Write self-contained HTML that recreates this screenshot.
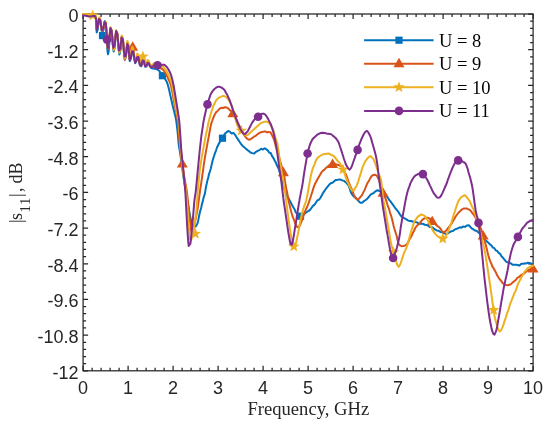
<!DOCTYPE html>
<html><head><meta charset="utf-8"><style>html,body{margin:0;padding:0;background:#fff;overflow:hidden;}svg{display:block;}</style></head>
<body>
<svg width="550" height="426" viewBox="0 0 550 426">
<rect width="550" height="426" fill="#fff"/>
<defs><clipPath id="c"><rect x="82.10" y="12.50" width="452.00" height="359.30"/></clipPath></defs>
<g stroke="#262626" stroke-width="1.25" fill="none">
<rect x="83.10" y="14.00" width="450.00" height="356.80"/>
<path d="M83.10 370.80V365.80M83.10 14.00V19.00M92.10 370.80V367.80M92.10 14.00V17.00M101.10 370.80V367.80M101.10 14.00V17.00M110.10 370.80V367.80M110.10 14.00V17.00M119.10 370.80V367.80M119.10 14.00V17.00M128.10 370.80V365.80M128.10 14.00V19.00M137.10 370.80V367.80M137.10 14.00V17.00M146.10 370.80V367.80M146.10 14.00V17.00M155.10 370.80V367.80M155.10 14.00V17.00M164.10 370.80V367.80M164.10 14.00V17.00M173.10 370.80V365.80M173.10 14.00V19.00M182.10 370.80V367.80M182.10 14.00V17.00M191.10 370.80V367.80M191.10 14.00V17.00M200.10 370.80V367.80M200.10 14.00V17.00M209.10 370.80V367.80M209.10 14.00V17.00M218.10 370.80V365.80M218.10 14.00V19.00M227.10 370.80V367.80M227.10 14.00V17.00M236.10 370.80V367.80M236.10 14.00V17.00M245.10 370.80V367.80M245.10 14.00V17.00M254.10 370.80V367.80M254.10 14.00V17.00M263.10 370.80V365.80M263.10 14.00V19.00M272.10 370.80V367.80M272.10 14.00V17.00M281.10 370.80V367.80M281.10 14.00V17.00M290.10 370.80V367.80M290.10 14.00V17.00M299.10 370.80V367.80M299.10 14.00V17.00M308.10 370.80V365.80M308.10 14.00V19.00M317.10 370.80V367.80M317.10 14.00V17.00M326.10 370.80V367.80M326.10 14.00V17.00M335.10 370.80V367.80M335.10 14.00V17.00M344.10 370.80V367.80M344.10 14.00V17.00M353.10 370.80V365.80M353.10 14.00V19.00M362.10 370.80V367.80M362.10 14.00V17.00M371.10 370.80V367.80M371.10 14.00V17.00M380.10 370.80V367.80M380.10 14.00V17.00M389.10 370.80V367.80M389.10 14.00V17.00M398.10 370.80V365.80M398.10 14.00V19.00M407.10 370.80V367.80M407.10 14.00V17.00M416.10 370.80V367.80M416.10 14.00V17.00M425.10 370.80V367.80M425.10 14.00V17.00M434.10 370.80V367.80M434.10 14.00V17.00M443.10 370.80V365.80M443.10 14.00V19.00M452.10 370.80V367.80M452.10 14.00V17.00M461.10 370.80V367.80M461.10 14.00V17.00M470.10 370.80V367.80M470.10 14.00V17.00M479.10 370.80V367.80M479.10 14.00V17.00M488.10 370.80V365.80M488.10 14.00V19.00M497.10 370.80V367.80M497.10 14.00V17.00M506.10 370.80V367.80M506.10 14.00V17.00M515.10 370.80V367.80M515.10 14.00V17.00M524.10 370.80V367.80M524.10 14.00V17.00M533.10 370.80V365.80M533.10 14.00V19.00M83.10 14.00H88.10M533.10 14.00H528.10M83.10 21.14H86.10M533.10 21.14H530.10M83.10 28.27H86.10M533.10 28.27H530.10M83.10 35.41H86.10M533.10 35.41H530.10M83.10 42.54H86.10M533.10 42.54H530.10M83.10 49.68H88.10M533.10 49.68H528.10M83.10 56.82H86.10M533.10 56.82H530.10M83.10 63.95H86.10M533.10 63.95H530.10M83.10 71.09H86.10M533.10 71.09H530.10M83.10 78.22H86.10M533.10 78.22H530.10M83.10 85.36H88.10M533.10 85.36H528.10M83.10 92.50H86.10M533.10 92.50H530.10M83.10 99.63H86.10M533.10 99.63H530.10M83.10 106.77H86.10M533.10 106.77H530.10M83.10 113.90H86.10M533.10 113.90H530.10M83.10 121.04H88.10M533.10 121.04H528.10M83.10 128.18H86.10M533.10 128.18H530.10M83.10 135.31H86.10M533.10 135.31H530.10M83.10 142.45H86.10M533.10 142.45H530.10M83.10 149.58H86.10M533.10 149.58H530.10M83.10 156.72H88.10M533.10 156.72H528.10M83.10 163.86H86.10M533.10 163.86H530.10M83.10 170.99H86.10M533.10 170.99H530.10M83.10 178.13H86.10M533.10 178.13H530.10M83.10 185.26H86.10M533.10 185.26H530.10M83.10 192.40H88.10M533.10 192.40H528.10M83.10 199.54H86.10M533.10 199.54H530.10M83.10 206.67H86.10M533.10 206.67H530.10M83.10 213.81H86.10M533.10 213.81H530.10M83.10 220.94H86.10M533.10 220.94H530.10M83.10 228.08H88.10M533.10 228.08H528.10M83.10 235.22H86.10M533.10 235.22H530.10M83.10 242.35H86.10M533.10 242.35H530.10M83.10 249.49H86.10M533.10 249.49H530.10M83.10 256.62H86.10M533.10 256.62H530.10M83.10 263.76H88.10M533.10 263.76H528.10M83.10 270.90H86.10M533.10 270.90H530.10M83.10 278.03H86.10M533.10 278.03H530.10M83.10 285.17H86.10M533.10 285.17H530.10M83.10 292.30H86.10M533.10 292.30H530.10M83.10 299.44H88.10M533.10 299.44H528.10M83.10 306.58H86.10M533.10 306.58H530.10M83.10 313.71H86.10M533.10 313.71H530.10M83.10 320.85H86.10M533.10 320.85H530.10M83.10 327.98H86.10M533.10 327.98H530.10M83.10 335.12H88.10M533.10 335.12H528.10M83.10 342.26H86.10M533.10 342.26H530.10M83.10 349.39H86.10M533.10 349.39H530.10M83.10 356.53H86.10M533.10 356.53H530.10M83.10 363.66H86.10M533.10 363.66H530.10M83.10 370.80H88.10M533.10 370.80H528.10"/>
</g>
<path clip-path="url(#c)" fill="none" stroke-width="2" stroke-linejoin="round" stroke-linecap="round" d="M83.00 15.00 L84.66 15.04 L86.00 15.20 L87.76 16.04 L89.57 16.33 L91.39 15.63 L93.23 15.24 L95.00 15.80 L95.85 18.25 L96.13 21.22 L96.28 24.49 L96.39 27.23 L96.51 29.84 L96.72 32.51 L97.64 30.01 L97.96 27.23 L98.31 24.27 L98.66 21.52 L99.14 18.89 L100.35 21.57 L100.73 24.33 L101.11 27.31 L101.50 30.12 L102.01 32.92 L103.35 30.41 L103.84 27.09 L104.32 23.85 L104.95 21.12 L105.74 23.75 L105.96 26.31 L106.18 29.46 L106.34 32.10 L106.50 34.89 L106.65 37.75 L106.81 40.62 L106.97 43.40 L107.13 46.02 L107.34 49.15 L107.55 51.67 L108.00 54.20 L108.58 51.68 L108.87 48.61 L109.09 45.83 L109.32 42.79 L109.54 39.65 L109.77 36.56 L110.00 33.67 L110.22 31.14 L110.53 28.58 L111.71 31.56 L111.95 34.17 L112.19 37.08 L112.44 40.13 L112.68 43.13 L112.92 45.93 L113.24 49.05 L113.72 51.60 L114.44 49.05 L114.71 46.55 L114.98 43.59 L115.24 40.42 L115.51 37.30 L115.78 34.46 L116.14 31.57 L117.32 34.08 L117.65 37.42 L117.89 40.26 L118.14 43.20 L118.38 46.11 L118.63 48.82 L118.95 51.87 L119.42 54.47 L120.21 51.76 L120.51 49.01 L120.81 45.84 L121.10 42.61 L121.40 39.68 L121.80 36.84 L122.82 39.34 L123.13 42.50 L123.36 45.24 L123.60 48.13 L123.84 51.03 L124.07 53.79 L124.38 57.00 L124.77 59.76 L125.88 56.99 L126.21 54.11 L126.54 50.98 L126.86 48.00 L127.29 44.95 L128.43 47.55 L128.69 50.18 L128.96 53.07 L129.22 55.93 L129.48 58.51 L129.83 61.04 L131.00 58.41 L131.38 55.40 L131.78 52.45 L132.32 49.81 L133.38 52.18 L133.79 54.73 L134.20 57.56 L134.61 60.30 L135.13 63.16 L136.57 60.68 L137.08 57.60 L138.43 57.44 L138.93 59.97 L139.44 62.84 L139.94 65.39 L141.27 66.25 L141.92 63.55 L142.57 60.75 L143.95 61.32 L144.50 63.97 L145.04 66.49 L146.43 66.62 L147.27 63.92 L148.63 62.93 L149.66 65.79 L151.06 68.06 L152.89 68.41 L154.70 68.66 L156.50 69.00 L157.95 69.74 L159.40 71.00 L160.84 73.17 L162.40 75.70 L164.12 77.78 L165.45 79.41 L166.74 81.74 L167.60 84.18 L168.40 87.00 L169.16 90.02 L169.76 92.68 L170.35 95.35 L170.94 97.95 L171.51 100.56 L172.07 103.14 L172.67 105.70 L173.35 108.45 L174.03 111.09 L174.66 113.66 L175.40 116.54 L175.96 119.18 L176.36 121.70 L176.70 124.26 L177.04 127.03 L177.37 129.88 L177.67 132.67 L177.94 135.50 L178.19 138.45 L178.43 141.30 L178.68 143.88 L179.01 146.56 L179.52 149.27 L180.00 152.00 L180.43 154.99 L180.81 157.76 L181.21 160.69 L181.61 163.60 L181.99 166.37 L182.36 169.14 L182.73 171.91 L183.11 174.65 L183.50 177.34 L183.93 180.08 L184.38 182.83 L184.83 185.52 L185.28 188.13 L185.72 190.72 L186.19 193.48 L186.63 196.10 L187.08 198.68 L187.53 201.35 L187.99 204.10 L188.45 206.81 L188.89 209.39 L189.39 212.20 L189.90 214.95 L190.38 217.43 L190.93 220.11 L191.64 223.01 L192.79 225.63 L194.70 226.84 L196.24 225.84 L197.50 223.39 L198.15 220.67 L198.69 218.08 L199.20 215.40 L199.81 212.79 L200.50 210.04 L201.15 207.96 L201.83 204.54 L202.50 202.35 L203.17 199.35 L203.85 196.65 L204.72 194.43 L205.25 191.48 L205.72 188.43 L206.23 185.78 L206.81 183.32 L207.47 180.17 L208.16 177.65 L208.91 174.44 L209.75 171.96 L210.69 169.01 L211.46 165.60 L212.10 162.77 L212.75 159.96 L213.43 157.87 L214.22 155.44 L215.07 152.88 L215.99 150.52 L217.00 147.51 L217.98 145.46 L219.20 142.97 L220.57 141.14 L222.14 138.48 L223.57 136.20 L225.00 133.45 L226.52 132.33 L228.10 130.93 L229.79 131.61 L231.57 133.57 L233.47 132.92 L235.09 134.80 L236.58 137.23 L238.00 139.39 L239.55 141.79 L241.00 143.81 L242.65 145.93 L244.31 147.32 L246.04 148.88 L247.48 150.08 L249.03 151.16 L250.62 152.56 L252.32 153.12 L254.11 153.63 L256.00 151.77 L257.66 150.87 L259.50 150.04 L261.20 148.75 L263.01 149.57 L264.74 148.26 L266.43 149.42 L267.97 150.58 L269.37 152.73 L270.70 153.04 L272.12 156.09 L273.50 158.25 L274.79 160.76 L276.02 163.03 L277.12 165.83 L278.30 168.03 L279.43 171.15 L280.29 174.01 L281.05 177.41 L281.81 178.65 L282.50 182.29 L283.14 185.19 L283.80 187.08 L284.75 189.87 L285.70 191.88 L286.94 195.49 L288.08 197.61 L289.36 199.85 L290.62 202.22 L291.88 204.67 L293.13 207.05 L294.40 208.99 L295.76 212.47 L297.20 213.49 L298.51 213.89 L299.98 215.63 L301.80 215.44 L303.38 214.79 L304.98 213.47 L306.45 212.25 L307.96 211.20 L309.40 210.50 L311.00 208.54 L312.59 206.32 L314.31 204.88 L316.03 202.52 L317.39 200.24 L318.75 199.90 L320.30 198.04 L321.87 195.33 L323.44 192.31 L325.00 190.11 L326.68 187.78 L328.40 185.64 L329.70 184.07 L331.07 183.07 L332.47 182.78 L333.92 181.48 L335.61 179.98 L337.35 179.89 L339.10 179.40 L340.91 179.78 L342.26 180.38 L343.99 180.86 L345.61 182.08 L347.00 183.64 L348.46 185.48 L349.67 188.44 L350.57 191.43 L351.76 193.95 L353.37 196.03 L354.69 197.15 L356.00 198.11 L357.69 200.01 L358.99 201.58 L360.47 202.82 L362.16 202.79 L364.00 201.04 L365.71 200.00 L367.50 198.42 L369.00 196.76 L370.43 194.76 L372.14 193.65 L373.50 193.22 L375.02 191.55 L376.69 190.58 L378.02 190.30 L379.85 191.31 L381.60 191.93 L383.04 193.60 L384.50 194.49 L386.02 196.02 L387.50 197.22 L389.08 199.73 L390.44 201.34 L391.93 203.37 L393.50 205.56 L395.10 207.98 L396.71 209.95 L398.24 211.65 L399.73 214.11 L401.39 216.43 L402.76 217.39 L404.20 218.19 L406.01 219.05 L407.89 220.31 L409.68 221.09 L411.41 221.02 L413.20 221.83 L415.02 222.11 L417.00 222.37 L418.34 223.40 L419.81 223.85 L421.24 223.49 L423.20 223.98 L424.91 224.71 L426.58 224.98 L428.33 225.87 L430.08 227.11 L431.83 227.04 L433.58 228.38 L435.30 229.64 L437.04 230.63 L438.73 230.82 L440.40 232.03 L442.23 232.35 L444.00 233.24 L445.79 233.69 L447.50 233.54 L449.32 232.38 L451.10 231.34 L452.90 231.01 L454.71 229.51 L456.50 228.87 L458.09 228.27 L459.71 227.28 L461.34 227.66 L463.11 226.61 L465.02 226.88 L466.92 225.42 L468.79 225.23 L470.51 227.16 L471.98 228.57 L473.50 229.47 L475.15 230.57 L476.90 230.95 L478.46 232.40 L479.95 233.67 L481.48 235.47 L482.87 237.53 L484.22 238.90 L485.57 240.46 L486.90 241.39 L488.45 242.76 L489.96 244.33 L491.50 245.62 L492.93 247.54 L494.38 248.18 L495.82 250.42 L497.25 250.98 L498.66 252.92 L500.07 253.85 L501.43 256.17 L502.73 257.46 L504.43 259.54 L506.15 261.60 L507.60 262.44 L509.00 263.02 L510.80 263.17 L512.50 264.77 L513.82 264.70 L515.69 264.72 L517.62 265.04 L519.47 265.65 L521.34 263.79 L523.24 263.68 L524.57 263.35 L526.40 263.53 L527.71 262.68 L529.50 263.05 L531.44 263.77 L533.00 264.45" stroke="#0072BD"/>
<g><rect x="98.90" y="32.00" width="7.20" height="7.20" fill="#0072BD"/><rect x="158.80" y="72.10" width="7.20" height="7.20" fill="#0072BD"/><rect x="218.90" y="134.60" width="7.20" height="7.20" fill="#0072BD"/><rect x="296.90" y="212.60" width="7.20" height="7.20" fill="#0072BD"/></g>
<path clip-path="url(#c)" fill="none" stroke-width="2" stroke-linejoin="round" stroke-linecap="round" d="M83.00 14.80 L84.66 14.84 L86.00 15.00 L87.76 15.84 L89.57 16.12 L91.39 15.37 L93.23 14.92 L95.00 15.40 L96.00 18.50 L96.18 21.04 L96.30 23.68 L96.43 26.46 L96.57 28.97 L97.95 25.86 L98.32 22.93 L98.71 20.25 L99.37 17.67 L100.26 20.24 L100.65 22.83 L101.05 25.72 L101.46 28.50 L102.00 31.30 L103.47 28.50 L104.01 25.07 L104.54 22.04 L105.86 23.92 L106.12 26.88 L106.31 29.47 L106.49 32.27 L106.68 35.16 L106.86 38.04 L107.04 40.80 L107.23 43.33 L107.48 46.18 L107.87 48.80 L108.68 46.14 L108.94 43.63 L109.21 40.71 L109.48 37.58 L109.74 34.47 L110.01 31.61 L110.37 28.54 L111.73 31.43 L111.98 34.13 L112.23 37.09 L112.48 40.15 L112.73 43.12 L112.98 45.83 L113.31 48.75 L114.62 46.61 L114.89 43.81 L115.16 40.73 L115.42 37.61 L115.69 34.69 L116.05 31.54 L117.43 34.42 L117.68 37.07 L117.93 39.97 L118.18 42.97 L118.43 45.90 L118.68 48.58 L119.01 51.51 L120.41 49.17 L120.71 46.14 L121.00 42.94 L121.30 39.92 L121.60 37.42 L122.92 39.64 L123.16 42.18 L123.40 45.01 L123.64 47.97 L123.88 50.91 L124.12 53.67 L124.44 56.77 L124.92 59.46 L125.74 56.81 L126.06 54.07 L126.38 50.94 L126.69 47.77 L127.00 44.94 L127.40 42.32 L128.38 45.31 L128.63 47.88 L128.87 50.74 L129.11 53.67 L129.36 56.42 L129.68 59.42 L131.07 56.83 L131.44 53.66 L131.82 50.66 L132.33 48.01 L133.43 50.95 L133.81 53.53 L134.19 56.36 L134.56 59.10 L135.05 62.09 L136.44 60.49 L136.87 57.40 L137.32 54.82 L138.65 56.99 L139.11 59.72 L139.56 62.55 L140.16 65.57 L141.55 64.26 L142.11 61.36 L142.66 58.78 L144.07 60.40 L144.57 63.29 L145.08 65.90 L146.51 65.44 L147.19 62.72 L148.58 61.16 L149.50 64.31 L150.50 67.00 L152.20 66.97 L153.50 66.50 L155.45 66.51 L156.83 66.66 L158.15 66.99 L159.46 67.50 L161.30 68.50 L162.85 69.61 L164.30 71.20 L165.80 73.74 L167.00 76.18 L168.15 78.52 L169.28 80.96 L170.30 83.60 L171.14 86.60 L171.72 89.17 L172.30 92.00 L172.81 94.64 L173.32 97.53 L173.82 100.40 L174.30 103.00 L174.89 105.85 L175.44 108.37 L176.00 111.00 L176.62 113.89 L177.24 116.96 L177.70 120.00 L178.02 123.04 L178.27 125.81 L178.50 128.71 L178.72 131.61 L178.94 134.35 L179.19 137.14 L179.41 139.85 L179.64 142.49 L179.89 145.17 L180.20 148.00 L180.53 150.62 L180.90 153.35 L181.30 156.14 L181.71 158.93 L182.11 161.67 L182.49 164.38 L182.87 167.10 L183.24 169.79 L183.61 172.44 L184.00 175.06 L184.42 177.71 L184.91 180.57 L185.43 183.40 L185.94 186.15 L186.40 188.76 L186.82 191.48 L187.16 194.22 L187.45 196.78 L187.73 199.34 L188.03 201.97 L188.32 204.55 L188.61 207.19 L188.90 210.00 L189.14 212.59 L189.38 215.36 L189.62 218.15 L189.87 220.79 L190.19 223.63 L190.59 226.81 L191.00 229.53 L191.72 232.19 L193.11 230.59 L193.84 227.60 L194.47 224.78 L195.00 222.12 L195.53 219.36 L196.07 216.69 L196.61 214.12 L197.14 211.45 L197.60 208.77 L197.97 206.14 L198.34 203.41 L198.71 200.67 L199.07 198.05 L199.42 195.51 L199.78 192.88 L200.20 189.65 L200.59 186.90 L201.03 184.58 L201.48 181.05 L201.91 178.57 L202.30 175.38 L202.68 173.27 L203.01 170.64 L203.33 168.38 L203.70 165.36 L204.11 162.74 L204.54 159.94 L204.98 157.10 L205.43 154.60 L205.90 151.64 L206.38 149.09 L206.87 146.75 L207.36 144.04 L207.85 141.16 L208.35 139.08 L208.87 136.01 L209.37 132.99 L209.89 130.31 L210.41 127.45 L210.94 124.93 L211.60 122.27 L212.40 120.36 L213.50 117.26 L214.76 114.51 L216.14 112.30 L217.92 110.61 L219.45 108.94 L221.20 107.73 L223.14 108.00 L225.00 107.16 L226.74 107.46 L228.50 108.63 L229.94 110.35 L231.40 111.13 L232.80 112.12 L234.07 114.81 L235.27 117.21 L236.50 119.77 L237.71 122.46 L238.95 125.04 L240.19 127.54 L241.51 129.82 L242.85 132.67 L244.18 135.14 L245.73 137.20 L247.34 138.89 L248.79 139.75 L250.65 139.28 L252.50 137.82 L254.04 136.74 L255.54 135.95 L257.03 134.68 L258.55 133.42 L260.00 132.63 L261.89 131.96 L263.20 131.80 L265.11 131.38 L267.00 132.44 L268.84 131.91 L270.33 132.13 L271.67 134.42 L273.00 137.20 L274.07 139.94 L274.93 142.84 L275.79 146.15 L276.54 148.44 L277.26 151.26 L277.98 154.22 L278.67 156.00 L279.39 158.37 L280.14 161.38 L280.84 163.33 L281.74 166.46 L282.80 169.75 L283.51 172.55 L284.06 175.43 L284.49 177.33 L284.95 181.06 L285.42 183.69 L285.88 186.39 L286.37 189.12 L286.87 191.25 L287.37 193.74 L287.91 196.43 L288.46 200.12 L289.02 202.47 L289.58 205.05 L290.18 207.59 L290.89 210.60 L291.61 213.22 L292.50 216.18 L293.33 218.45 L294.16 220.23 L295.37 223.82 L296.87 226.77 L298.57 227.42 L300.00 225.11 L301.24 222.15 L302.25 219.72 L303.18 216.71 L304.09 214.02 L305.00 211.43 L306.00 209.19 L307.00 207.35 L307.95 204.76 L308.84 202.37 L309.76 199.54 L310.63 196.98 L311.49 194.21 L312.37 191.62 L313.27 188.43 L314.22 185.87 L315.16 183.43 L316.16 181.67 L317.48 179.16 L318.65 177.13 L319.95 175.03 L321.41 172.41 L323.00 170.64 L324.48 169.57 L326.00 167.90 L327.46 166.85 L329.00 165.51 L330.71 163.97 L332.60 163.65 L334.45 163.70 L336.39 164.48 L338.20 164.92 L339.94 165.69 L341.48 166.04 L343.19 168.94 L344.52 171.63 L345.55 173.81 L346.55 176.17 L347.54 178.80 L348.50 181.57 L349.50 184.21 L350.50 186.76 L351.53 188.65 L352.50 190.92 L353.64 194.32 L354.72 196.63 L356.28 198.72 L357.60 199.74 L359.02 198.73 L360.50 196.86 L361.83 195.34 L363.17 192.62 L364.30 190.63 L365.37 188.16 L366.50 185.15 L367.61 182.72 L368.78 181.13 L370.48 177.85 L372.00 175.69 L373.52 175.01 L375.23 174.73 L376.96 175.86 L378.25 178.45 L379.18 180.24 L380.07 183.31 L380.92 185.50 L381.73 187.74 L382.56 190.35 L383.44 193.52 L384.38 196.05 L385.34 198.07 L386.20 200.38 L387.22 204.00 L388.10 206.73 L388.93 208.61 L389.87 212.30 L390.61 214.37 L391.37 216.61 L392.14 219.50 L392.87 222.57 L393.56 225.63 L394.25 228.29 L394.97 230.53 L395.74 233.02 L396.47 235.28 L397.14 238.16 L397.72 240.82 L398.63 243.99 L400.00 245.37 L401.60 246.23 L403.50 246.04 L405.40 245.40 L407.08 243.89 L408.37 241.76 L409.50 239.32 L410.68 237.55 L411.81 235.42 L412.92 232.79 L414.01 230.74 L415.07 228.26 L416.46 226.41 L417.99 224.81 L419.60 223.33 L421.20 221.11 L422.86 219.30 L424.48 218.38 L426.33 217.72 L428.17 217.72 L429.93 218.84 L431.66 220.14 L433.09 221.54 L434.75 223.30 L436.50 225.43 L438.06 226.46 L439.56 227.57 L441.01 229.45 L442.32 231.79 L444.06 232.13 L445.37 231.25 L446.75 229.83 L448.22 227.99 L449.74 226.06 L451.31 223.91 L452.85 221.25 L454.22 218.92 L455.63 216.51 L457.33 214.24 L458.72 212.46 L460.57 210.79 L462.09 209.28 L463.61 208.54 L465.30 208.55 L466.64 208.43 L468.00 209.16 L469.51 209.71 L470.91 211.10 L472.57 213.38 L473.99 215.10 L475.36 217.23 L476.64 220.44 L477.90 222.36 L479.08 224.52 L480.20 226.86 L481.23 229.45 L482.35 232.36 L483.20 235.27 L483.89 237.93 L484.56 240.40 L485.20 242.92 L485.82 245.13 L486.42 247.39 L487.06 250.03 L487.70 253.03 L488.40 255.62 L489.22 258.38 L490.18 261.11 L491.22 263.38 L492.30 266.39 L493.53 268.32 L494.78 270.39 L496.00 272.70 L497.24 275.56 L498.50 277.59 L500.10 279.57 L501.65 281.65 L503.09 283.52 L504.50 284.45 L506.11 284.96 L507.77 285.20 L509.50 284.77 L511.29 283.85 L513.00 282.15 L514.51 280.97 L515.97 279.74 L517.31 277.82 L518.77 277.14 L520.30 275.89 L522.00 274.44 L523.54 274.01 L525.20 272.52 L526.70 271.07 L528.46 269.98 L530.00 269.36 L531.37 268.94 L533.00 268.15" stroke="#D95319"/>
<g><polygon points="132.70,41.37 127.20,50.77 138.20,50.77" fill="#D95319"/><polygon points="182.30,158.17 176.80,167.57 187.80,167.57" fill="#D95319"/><polygon points="232.80,107.97 227.30,117.37 238.30,117.37" fill="#D95319"/><polygon points="283.40,166.77 277.90,176.17 288.90,176.17" fill="#D95319"/><polygon points="332.60,158.57 327.10,167.97 338.10,167.97" fill="#D95319"/><polygon points="383.00,187.37 377.50,196.77 388.50,196.77" fill="#D95319"/><polygon points="432.20,215.67 426.70,225.07 437.70,225.07" fill="#D95319"/><polygon points="483.20,230.17 477.70,239.57 488.70,239.57" fill="#D95319"/><polygon points="533.00,263.17 527.50,272.57 538.50,272.57" fill="#D95319"/></g>
<path clip-path="url(#c)" fill="none" stroke-width="2" stroke-linejoin="round" stroke-linecap="round" d="M83.00 13.90 L84.66 13.93 L86.00 14.00 L87.76 14.34 L89.57 14.49 L91.39 14.29 L93.23 14.15 L95.00 14.40 L96.00 17.50 L96.21 20.75 L96.33 23.40 L96.45 26.11 L96.64 29.16 L97.82 26.17 L98.19 23.21 L98.58 20.34 L99.11 17.53 L100.39 20.29 L100.79 23.07 L101.19 26.01 L101.59 28.69 L102.13 31.14 L103.41 28.20 L103.92 24.94 L104.43 21.87 L105.73 21.92 L105.99 24.54 L106.24 27.83 L106.43 30.59 L106.61 33.48 L106.80 36.40 L106.98 39.23 L107.17 41.87 L107.42 44.91 L107.74 47.58 L108.77 44.73 L109.03 42.03 L109.30 38.99 L109.56 35.82 L109.83 32.74 L110.10 29.98 L110.46 27.17 L111.63 29.66 L111.95 33.05 L112.19 35.93 L112.44 38.92 L112.68 41.86 L112.92 44.59 L113.24 47.63 L113.72 50.11 L114.44 47.57 L114.71 45.08 L114.98 42.13 L115.24 38.98 L115.51 35.86 L115.78 33.04 L116.14 30.16 L117.34 32.86 L117.59 35.40 L117.85 38.26 L118.10 41.27 L118.35 44.27 L118.60 47.08 L118.93 50.25 L119.34 52.73 L120.21 50.28 L120.51 47.54 L120.81 44.38 L121.10 41.17 L121.40 38.26 L121.80 35.43 L122.82 37.96 L123.13 41.15 L123.36 43.90 L123.60 46.81 L123.84 49.71 L124.07 52.46 L124.38 55.64 L124.77 58.34 L125.82 55.46 L126.12 52.61 L126.43 49.46 L126.73 46.33 L127.02 43.57 L127.41 41.02 L128.38 43.98 L128.63 46.57 L128.87 49.45 L129.11 52.40 L129.36 55.18 L129.68 58.20 L131.07 55.60 L131.44 52.40 L131.82 49.38 L132.33 46.72 L133.43 49.67 L133.81 52.27 L134.19 55.11 L134.56 57.88 L135.05 60.88 L136.44 59.25 L136.87 56.13 L137.32 53.53 L138.65 55.72 L139.11 58.47 L139.56 61.32 L140.16 64.36 L141.55 63.03 L142.11 60.10 L142.66 57.49 L144.01 58.83 L144.48 61.52 L144.96 64.12 L146.28 64.99 L146.96 62.37 L147.65 59.94 L149.04 61.36 L149.74 64.06 L151.42 65.69 L152.94 64.12 L154.80 63.61 L156.20 63.64 L158.16 63.95 L159.92 64.67 L161.50 65.63 L163.00 66.82 L164.36 68.17 L166.07 70.31 L167.33 72.54 L168.45 74.94 L169.50 77.50 L170.61 80.43 L171.44 82.93 L172.14 85.58 L172.74 88.58 L173.17 91.20 L173.66 94.18 L174.11 96.83 L174.56 99.58 L175.03 102.50 L175.51 105.42 L175.97 108.17 L176.45 110.80 L177.06 113.52 L177.78 116.48 L178.29 119.20 L178.61 121.79 L178.85 124.40 L179.06 127.19 L179.26 130.05 L179.45 132.91 L179.65 135.68 L179.84 138.31 L180.01 140.89 L180.18 143.51 L180.38 146.25 L180.63 149.21 L180.88 151.90 L181.15 154.66 L181.44 157.58 L181.75 160.56 L182.07 163.50 L182.37 166.30 L182.66 168.85 L183.01 171.71 L183.41 174.74 L183.79 177.38 L184.24 180.32 L184.63 182.80 L185.13 185.52 L185.70 188.60 L186.05 191.23 L186.30 193.86 L186.53 196.59 L186.74 199.33 L186.96 201.92 L187.21 205.00 L187.42 207.68 L187.64 210.58 L187.84 213.15 L188.04 215.98 L188.26 218.90 L188.46 221.76 L188.66 224.40 L188.87 227.40 L189.08 230.42 L189.27 233.15 L189.50 236.00 L189.79 238.78 L191.30 240.00 L192.12 237.09 L192.80 234.00 L193.28 231.48 L193.74 228.74 L194.20 226.00 L194.66 223.33 L195.10 220.67 L195.50 218.00 L195.83 215.41 L196.12 212.81 L196.40 210.00 L196.63 207.48 L196.85 204.78 L197.05 202.03 L197.24 199.33 L197.40 196.67 L197.54 194.00 L197.70 191.33 L197.91 188.67 L198.17 186.00 L198.45 183.33 L198.73 180.67 L199.00 177.97 L199.26 175.22 L199.52 172.52 L199.80 170.00 L200.17 167.15 L200.57 164.78 L201.00 161.99 L201.40 159.43 L201.82 156.65 L202.27 154.12 L202.72 151.94 L203.18 149.36 L203.66 146.87 L204.17 143.99 L204.66 141.38 L205.16 138.73 L205.69 135.52 L206.22 133.35 L206.78 130.88 L207.36 128.30 L207.96 125.03 L208.55 122.13 L209.17 119.69 L209.81 117.21 L210.46 114.99 L211.14 112.60 L211.93 110.28 L212.82 107.43 L213.76 105.17 L214.83 102.96 L216.16 100.24 L217.61 98.85 L219.07 97.56 L220.81 96.89 L222.50 96.09 L224.28 96.06 L225.96 96.91 L227.32 98.10 L228.89 100.26 L230.25 102.64 L231.45 105.34 L232.35 107.69 L233.19 110.30 L233.94 113.41 L234.64 115.72 L235.33 118.41 L236.06 121.19 L236.77 123.30 L237.80 126.32 L239.53 129.17 L240.89 129.79 L242.54 131.94 L244.00 133.81 L245.55 135.18 L247.13 135.27 L248.78 134.19 L250.41 132.36 L251.73 131.42 L253.13 130.00 L254.54 128.64 L256.02 127.50 L257.56 126.00 L259.06 124.68 L260.62 123.14 L262.34 122.55 L264.00 121.84 L265.39 121.71 L266.78 121.61 L268.50 122.24 L270.10 123.99 L271.45 126.78 L272.70 128.74 L273.62 131.04 L274.41 134.02 L275.20 137.29 L276.15 140.23 L276.92 142.07 L277.50 144.04 L278.03 147.62 L278.46 150.38 L278.89 153.19 L279.30 156.68 L279.70 159.72 L280.14 162.42 L280.57 165.16 L280.99 167.84 L281.39 170.74 L281.82 173.20 L282.30 175.73 L282.77 178.17 L283.25 180.19 L283.68 183.41 L284.05 186.06 L284.43 188.65 L284.82 190.63 L285.21 193.46 L285.59 196.68 L285.93 198.69 L286.28 201.54 L286.63 204.70 L286.98 206.95 L287.33 210.31 L287.69 213.00 L288.06 215.52 L288.43 218.33 L288.80 221.21 L289.17 223.80 L289.53 226.62 L289.92 228.79 L290.38 231.64 L290.82 234.80 L291.26 237.25 L291.80 239.80 L292.30 242.78 L292.95 246.08 L294.35 247.53 L295.50 244.65 L296.19 242.19 L296.76 239.56 L297.35 236.59 L297.87 234.50 L298.38 231.37 L298.90 229.04 L299.42 225.75 L299.93 222.97 L300.45 220.58 L300.97 218.20 L301.48 215.72 L302.20 212.53 L303.01 209.69 L304.00 206.73 L305.06 203.97 L306.10 200.83 L306.69 198.37 L307.21 195.83 L307.71 192.89 L308.20 190.29 L308.68 187.62 L309.15 185.36 L309.63 182.41 L310.14 179.43 L310.68 176.57 L311.24 173.99 L311.84 171.84 L312.63 168.94 L313.53 166.48 L314.50 164.62 L315.77 160.87 L317.14 158.43 L318.46 157.15 L319.99 156.03 L321.57 155.03 L323.27 154.13 L325.09 153.94 L327.06 153.74 L328.90 153.52 L330.24 154.51 L332.00 155.05 L333.51 155.92 L335.00 157.50 L336.49 159.33 L338.00 161.45 L339.59 162.84 L341.10 165.43 L342.34 168.39 L343.50 170.66 L344.49 173.30 L345.50 176.37 L346.50 179.18 L347.52 182.13 L348.50 183.80 L349.62 186.59 L351.13 189.43 L352.43 190.87 L353.74 190.68 L355.07 188.06 L356.34 186.49 L357.45 183.55 L358.38 181.34 L359.15 178.30 L359.92 175.82 L360.71 173.58 L361.52 170.62 L362.34 167.95 L363.28 165.60 L364.50 162.89 L365.72 160.54 L367.31 158.58 L369.02 156.88 L370.50 155.99 L371.98 157.61 L373.50 159.05 L374.50 161.64 L375.50 164.09 L376.52 167.05 L377.35 169.77 L378.22 172.32 L379.18 175.10 L380.14 177.22 L380.90 179.39 L381.46 182.80 L381.80 185.65 L382.12 188.34 L382.40 190.86 L382.71 194.49 L383.04 197.58 L383.40 200.56 L383.87 202.80 L384.39 205.47 L384.92 207.73 L385.45 210.74 L385.94 213.83 L386.41 215.91 L386.86 218.99 L387.32 221.73 L387.80 224.21 L388.24 226.14 L388.69 229.64 L389.15 232.38 L389.60 234.89 L390.10 238.04 L390.54 240.61 L391.05 243.62 L391.70 245.95 L392.40 248.90 L393.31 252.17 L394.01 254.73 L394.71 256.77 L395.50 258.93 L396.37 262.09 L397.33 264.89 L398.64 266.82 L400.20 264.49 L401.32 261.45 L402.26 258.05 L403.17 255.72 L404.08 252.75 L405.00 250.86 L406.06 248.51 L407.08 245.95 L407.97 243.18 L408.70 240.21 L409.51 237.13 L410.29 234.64 L411.10 231.54 L411.91 229.03 L412.73 226.43 L413.59 223.91 L414.92 220.34 L416.27 218.81 L417.70 216.88 L419.40 215.57 L421.30 214.36 L423.06 215.13 L424.65 215.84 L426.20 217.79 L427.51 219.93 L428.81 222.53 L430.13 224.88 L431.48 227.58 L432.83 230.55 L434.33 232.55 L435.99 234.62 L437.64 236.42 L438.98 236.86 L440.54 237.62 L442.25 238.92 L443.73 239.04 L445.10 236.96 L446.55 234.61 L447.61 232.70 L448.71 230.06 L449.63 227.47 L450.50 225.20 L451.39 222.51 L452.28 219.41 L453.12 216.48 L453.97 213.88 L454.80 211.70 L455.61 208.99 L456.52 206.16 L457.50 203.40 L458.48 200.84 L459.86 198.83 L461.24 197.13 L463.20 195.99 L465.00 195.21 L466.67 197.15 L468.18 199.07 L469.57 200.94 L470.81 203.94 L472.05 206.51 L473.26 208.64 L474.28 211.33 L475.13 214.25 L475.91 216.78 L476.68 219.73 L477.41 222.44 L478.12 225.10 L478.82 227.62 L479.53 230.39 L480.39 233.33 L481.12 235.87 L481.78 237.68 L482.52 241.18 L483.14 244.14 L483.75 246.56 L484.35 249.20 L484.86 252.36 L485.43 254.63 L485.89 257.45 L486.34 260.84 L486.81 263.04 L487.30 266.25 L487.78 269.80 L488.17 272.06 L488.58 274.83 L488.98 277.77 L489.39 280.15 L489.80 283.02 L490.20 285.97 L490.60 288.97 L491.00 291.67 L491.40 294.48 L491.80 297.13 L492.20 300.09 L492.59 303.32 L492.97 305.95 L493.43 308.69 L493.90 311.44 L494.46 315.53 L494.99 318.18 L495.62 320.89 L496.38 323.06 L497.12 326.35 L498.02 329.21 L499.68 331.54 L501.15 330.10 L502.50 327.18 L503.59 324.43 L504.51 321.02 L505.37 318.93 L506.14 316.50 L506.94 313.58 L507.78 311.38 L508.62 309.25 L509.49 305.97 L510.38 303.30 L511.28 301.06 L512.28 298.54 L513.34 295.79 L514.37 293.04 L515.37 291.40 L516.35 288.96 L517.28 285.96 L518.27 283.22 L519.36 281.41 L520.45 279.15 L521.67 277.09 L523.00 274.63 L524.43 271.99 L526.14 270.18 L527.50 268.28 L529.00 267.28 L530.65 266.57 L532.02 266.24 L533.00 265.59" stroke="#EDB120"/>
<g><polygon points="92.80,9.60 94.28,13.56 98.51,13.75 95.20,16.38 96.33,20.45 92.80,18.12 89.27,20.45 90.40,16.38 87.09,13.75 91.32,13.56" fill="#EDB120"/><polygon points="142.90,50.60 144.38,54.56 148.61,54.75 145.30,57.38 146.43,61.45 142.90,59.12 139.37,61.45 140.50,57.38 137.19,54.75 141.42,54.56" fill="#EDB120"/><polygon points="195.30,227.80 196.78,231.76 201.01,231.95 197.70,234.58 198.83,238.65 195.30,236.32 191.77,238.65 192.90,234.58 189.59,231.95 193.82,231.76" fill="#EDB120"/><polygon points="241.30,124.70 242.78,128.66 247.01,128.85 243.70,131.48 244.83,135.55 241.30,133.22 237.77,135.55 238.90,131.48 235.59,128.85 239.82,128.66" fill="#EDB120"/><polygon points="293.80,240.50 295.28,244.46 299.51,244.65 296.20,247.28 297.33,251.35 293.80,249.02 290.27,251.35 291.40,247.28 288.09,244.65 292.32,244.46" fill="#EDB120"/><polygon points="343.00,163.50 344.48,167.46 348.71,167.65 345.40,170.28 346.53,174.35 343.00,172.02 339.47,174.35 340.60,170.28 337.29,167.65 341.52,167.46" fill="#EDB120"/><polygon points="393.50,246.20 394.98,250.16 399.21,250.35 395.90,252.98 397.03,257.05 393.50,254.72 389.97,257.05 391.10,252.98 387.79,250.35 392.02,250.16" fill="#EDB120"/><polygon points="442.80,232.70 444.28,236.66 448.51,236.85 445.20,239.48 446.33,243.55 442.80,241.22 439.27,243.55 440.40,239.48 437.09,236.85 441.32,236.66" fill="#EDB120"/><polygon points="493.60,304.10 495.08,308.06 499.31,308.25 496.00,310.88 497.13,314.95 493.60,312.62 490.07,314.95 491.20,310.88 487.89,308.25 492.12,308.06" fill="#EDB120"/></g>
<path clip-path="url(#c)" fill="none" stroke-width="2" stroke-linejoin="round" stroke-linecap="round" d="M83.00 15.50 L84.62 15.56 L86.00 15.70 L87.75 16.20 L89.50 16.60 L91.40 16.28 L93.26 15.85 L94.92 16.03 L96.07 18.47 L96.27 21.43 L96.40 24.24 L96.53 27.00 L96.75 29.77 L97.66 27.40 L98.06 24.49 L98.49 21.49 L98.92 19.02 L100.30 20.28 L100.71 22.88 L101.13 25.73 L101.55 28.37 L102.12 30.83 L103.34 28.53 L103.92 25.19 L104.49 22.09 L105.81 23.32 L106.07 26.13 L106.26 28.65 L106.45 31.38 L106.64 34.24 L106.83 37.09 L107.02 39.85 L107.21 42.39 L107.47 45.25 L107.86 47.89 L108.70 45.19 L108.97 42.66 L109.25 39.72 L109.52 36.61 L109.80 33.56 L110.08 30.81 L110.44 27.98 L111.67 30.68 L111.93 33.26 L112.18 36.16 L112.44 39.18 L112.70 42.14 L112.95 44.87 L113.29 47.82 L114.64 45.64 L114.92 42.83 L115.20 39.76 L115.48 36.68 L115.76 33.87 L116.13 30.97 L117.37 33.67 L117.62 36.21 L117.88 39.05 L118.14 42.01 L118.40 44.93 L118.66 47.62 L119.00 50.58 L120.34 49.11 L120.65 46.20 L120.96 43.04 L121.27 40.00 L121.57 37.47 L122.94 39.65 L123.18 42.18 L123.43 44.99 L123.68 47.91 L123.93 50.78 L124.18 53.45 L124.51 56.39 L125.84 55.76 L126.20 52.86 L126.55 49.68 L126.90 46.69 L127.36 43.85 L128.34 46.25 L128.61 48.74 L128.87 51.56 L129.13 54.43 L129.39 57.11 L129.74 59.93 L131.05 57.56 L131.46 54.42 L131.87 51.48 L133.28 51.29 L133.70 53.77 L134.13 56.65 L134.56 59.49 L135.11 62.50 L136.57 60.21 L137.08 57.23 L138.43 57.09 L138.93 59.56 L139.44 62.35 L139.94 64.83 L141.27 65.70 L141.92 63.10 L142.57 60.40 L144.01 61.21 L144.60 64.02 L145.20 66.45 L146.71 65.28 L147.55 62.81 L148.98 63.46 L149.86 65.96 L151.61 67.02 L153.50 66.00 L155.47 65.56 L156.85 65.31 L158.70 65.02 L160.42 64.83 L162.21 64.72 L163.99 64.76 L165.52 65.55 L167.15 67.44 L168.49 69.46 L169.69 71.68 L170.70 74.03 L171.60 76.84 L172.23 79.31 L172.86 81.98 L173.50 85.00 L174.05 88.03 L174.49 90.66 L174.95 93.50 L175.41 96.25 L175.84 98.92 L176.30 101.73 L176.76 104.57 L177.20 107.34 L177.62 110.02 L178.05 112.60 L178.46 115.16 L178.84 117.84 L179.17 120.62 L179.42 123.21 L179.64 125.92 L179.85 128.72 L180.05 131.53 L180.25 134.32 L180.44 137.01 L180.60 139.60 L180.75 142.19 L180.91 144.86 L181.11 147.70 L181.35 150.61 L181.59 153.15 L181.85 155.84 L182.13 158.62 L182.43 161.47 L182.73 164.34 L183.02 167.20 L183.30 170.00 L183.57 172.76 L183.85 175.52 L184.13 178.28 L184.41 181.03 L184.67 183.79 L184.92 186.55 L185.15 189.31 L185.35 192.08 L185.52 194.87 L185.68 197.68 L185.82 200.47 L185.96 203.25 L186.09 205.99 L186.23 208.68 L186.38 211.45 L186.53 214.29 L186.67 217.07 L186.82 219.81 L186.97 222.53 L187.13 225.25 L187.30 228.00 L187.49 230.97 L187.69 234.19 L187.91 237.45 L188.13 240.53 L188.36 243.21 L188.70 246.00 L190.30 244.00 L190.67 241.52 L190.96 238.89 L191.24 235.95 L191.52 232.91 L191.80 230.00 L192.06 227.33 L192.32 224.62 L192.58 221.87 L192.83 219.12 L193.08 216.37 L193.32 213.62 L193.56 210.77 L193.79 207.90 L194.02 205.09 L194.26 202.42 L194.59 199.22 L195.00 196.36 L195.45 193.61 L195.78 191.09 L196.06 188.44 L196.36 185.45 L196.62 182.78 L196.89 179.92 L197.16 176.93 L197.45 173.89 L197.73 170.84 L198.02 167.86 L198.30 165.00 L198.58 162.18 L198.86 159.31 L199.15 156.41 L199.44 153.50 L199.73 150.63 L200.03 147.57 L200.32 145.04 L200.61 142.65 L201.00 139.16 L201.41 135.71 L201.82 132.79 L202.24 130.08 L202.64 127.59 L203.04 124.73 L203.50 121.68 L203.94 119.43 L204.47 116.75 L205.11 114.07 L205.82 110.99 L206.44 108.33 L207.11 105.77 L207.85 103.73 L208.60 100.79 L209.43 97.86 L210.28 95.26 L211.47 92.87 L212.84 90.81 L214.48 88.95 L216.05 87.69 L217.72 86.87 L219.39 86.76 L221.16 87.42 L222.92 88.59 L224.50 90.03 L225.85 92.48 L227.16 94.68 L228.36 97.30 L229.38 99.50 L230.35 102.24 L231.30 104.80 L232.23 107.56 L233.12 110.87 L233.99 113.18 L234.88 115.84 L235.84 118.02 L236.84 120.61 L237.90 123.42 L238.97 125.85 L240.38 128.85 L241.90 131.73 L243.37 133.56 L245.07 134.11 L246.50 132.53 L248.00 130.80 L249.55 127.74 L250.85 125.17 L252.17 122.60 L253.76 120.47 L255.48 118.26 L257.20 116.80 L258.86 115.32 L260.53 114.43 L262.00 113.77 L263.33 113.62 L265.00 114.43 L266.47 116.21 L268.00 118.65 L269.45 121.60 L270.65 123.92 L271.69 126.72 L272.60 129.61 L273.30 132.09 L273.99 134.83 L274.62 137.67 L275.23 140.55 L275.71 143.02 L276.18 145.81 L276.64 148.83 L277.08 151.93 L277.50 154.69 L277.90 157.51 L278.28 160.32 L278.65 163.12 L279.01 165.77 L279.35 168.44 L279.71 171.26 L280.13 173.70 L280.60 176.48 L280.98 179.39 L281.40 182.23 L281.80 185.44 L282.13 188.23 L282.47 190.75 L282.82 194.21 L283.17 197.22 L283.52 199.68 L283.90 202.51 L284.30 205.18 L284.70 207.60 L285.10 210.27 L285.50 213.02 L285.90 215.93 L286.30 218.73 L286.71 221.43 L287.11 224.42 L287.51 226.81 L287.90 229.55 L288.35 232.58 L288.82 235.37 L289.28 237.78 L289.81 240.72 L290.47 244.01 L291.81 244.73 L292.56 242.37 L293.10 239.48 L293.63 236.58 L294.09 233.95 L294.57 230.88 L295.05 227.40 L295.50 224.93 L295.93 222.66 L296.36 219.83 L296.79 216.64 L297.20 213.80 L297.60 211.26 L298.03 209.03 L298.48 206.12 L298.91 203.31 L299.35 200.96 L299.80 198.19 L300.32 195.79 L300.86 192.80 L301.39 190.09 L301.89 187.74 L302.35 185.31 L302.77 182.69 L303.17 180.00 L303.60 176.74 L304.00 174.19 L304.41 171.52 L304.84 168.80 L305.28 166.32 L305.74 163.54 L306.21 160.93 L306.70 158.11 L307.21 155.35 L307.76 152.78 L308.41 150.06 L309.09 147.59 L310.00 144.51 L311.11 141.86 L312.66 138.99 L314.22 137.43 L315.56 136.28 L317.00 134.95 L318.80 133.86 L320.73 133.00 L322.63 132.83 L324.56 132.89 L326.42 133.54 L328.22 133.73 L329.89 134.03 L331.50 134.38 L333.03 135.86 L334.52 137.08 L335.83 138.15 L337.43 140.53 L338.79 142.70 L339.81 146.01 L340.75 148.72 L341.55 151.14 L342.29 153.58 L343.03 155.77 L343.82 158.48 L344.70 160.99 L345.60 163.81 L346.66 165.77 L348.16 168.50 L349.68 169.60 L351.20 167.74 L352.30 164.94 L353.36 161.78 L354.19 159.51 L355.00 157.17 L355.92 154.36 L356.84 151.82 L357.80 149.08 L358.69 146.33 L359.63 143.54 L360.56 141.26 L361.57 138.74 L362.66 136.49 L364.00 133.73 L365.50 131.68 L367.00 130.95 L368.33 132.45 L369.67 134.92 L370.64 137.07 L371.48 139.88 L372.34 142.96 L373.16 145.84 L374.00 148.89 L374.69 151.25 L375.37 153.66 L376.01 156.53 L376.52 159.16 L376.93 161.59 L377.31 164.14 L377.66 166.91 L378.01 170.01 L378.34 172.92 L378.70 175.57 L379.06 178.66 L379.40 181.17 L379.74 183.79 L380.10 186.63 L380.49 189.22 L380.86 191.49 L381.22 194.52 L381.61 197.24 L382.01 200.48 L382.42 203.36 L382.82 206.32 L383.21 209.02 L383.62 211.21 L384.07 214.31 L384.50 216.87 L384.93 219.39 L385.36 221.97 L385.79 224.77 L386.23 227.62 L386.70 230.58 L387.17 232.93 L387.62 235.67 L388.07 237.95 L388.50 240.69 L389.06 244.13 L389.58 246.92 L390.09 249.69 L390.83 252.93 L391.48 255.53 L392.96 257.42 L394.43 254.70 L395.39 252.20 L396.18 250.21 L397.00 247.33 L397.73 244.29 L398.33 241.72 L398.93 238.96 L399.50 236.08 L399.92 233.49 L400.32 230.73 L400.71 227.73 L401.10 224.99 L401.50 222.82 L401.96 220.11 L402.43 217.40 L402.90 214.73 L403.40 212.11 L403.92 209.45 L404.40 206.62 L404.91 203.91 L405.43 201.15 L405.97 198.30 L406.69 195.00 L407.45 192.01 L408.23 189.36 L409.21 186.83 L410.28 183.61 L411.44 181.32 L412.68 179.03 L414.14 176.70 L415.50 175.44 L417.22 174.51 L419.00 173.70 L420.32 173.43 L421.63 173.43 L423.31 174.32 L424.92 176.26 L426.50 178.49 L427.66 180.54 L428.80 183.02 L430.00 185.59 L431.18 187.93 L432.42 190.83 L433.68 193.09 L435.43 195.45 L436.90 197.37 L438.30 197.81 L439.72 197.35 L441.07 195.74 L442.52 192.89 L443.85 189.85 L444.93 187.29 L446.00 184.99 L446.94 182.76 L447.88 179.72 L448.82 177.30 L449.76 174.60 L450.80 171.93 L451.86 169.27 L452.92 166.91 L454.41 163.89 L456.11 161.60 L457.80 160.00 L459.50 159.67 L461.38 160.56 L462.95 161.77 L464.38 162.51 L465.70 163.80 L466.84 166.45 L467.66 168.92 L468.50 172.26 L469.24 174.67 L469.99 177.00 L470.73 179.94 L471.40 182.79 L471.92 184.96 L472.39 187.62 L472.83 190.45 L473.27 193.42 L473.69 196.26 L474.05 198.88 L474.41 201.76 L474.78 204.47 L475.17 207.12 L475.60 210.18 L476.14 212.83 L476.74 215.32 L477.35 217.37 L477.95 220.03 L478.50 223.09 L478.90 225.27 L479.27 228.22 L479.63 230.82 L479.97 233.71 L480.30 236.48 L480.62 239.35 L480.92 242.28 L481.21 244.77 L481.48 247.78 L481.75 250.21 L482.01 252.80 L482.29 255.88 L482.57 258.47 L482.83 261.16 L483.10 264.16 L483.37 267.12 L483.64 269.41 L483.92 272.42 L484.21 275.60 L484.50 278.43 L484.80 280.94 L485.11 283.53 L485.43 286.30 L485.75 288.90 L486.07 291.75 L486.39 294.54 L486.72 297.25 L487.07 300.39 L487.44 303.20 L487.81 305.80 L488.19 308.99 L488.56 311.46 L488.93 314.03 L489.33 316.71 L489.84 319.79 L490.34 322.44 L490.85 325.03 L491.50 328.35 L492.16 330.65 L493.06 333.55 L494.49 334.71 L495.79 331.84 L496.56 329.22 L497.17 326.71 L497.65 323.70 L498.11 320.93 L498.58 318.24 L499.06 315.48 L499.52 313.01 L499.96 310.35 L500.41 307.49 L500.86 304.74 L501.32 301.96 L501.77 299.34 L502.24 296.75 L502.73 293.79 L503.22 290.84 L503.70 288.02 L504.20 285.69 L504.70 283.30 L505.28 280.62 L505.87 278.00 L506.47 275.44 L507.05 272.74 L507.60 270.22 L508.13 267.13 L508.62 264.33 L509.09 261.45 L509.59 258.99 L510.16 256.21 L510.78 253.49 L511.43 250.98 L512.15 248.71 L513.00 245.99 L514.19 243.20 L515.56 240.99 L516.94 238.39 L518.24 236.27 L519.52 233.74 L520.74 231.52 L522.39 228.51 L524.02 226.60 L525.64 224.54 L526.96 222.94 L528.54 221.96 L530.00 220.79 L531.39 220.54 L533.00 219.50" stroke="#7E2F8E"/>
<g><circle cx="107.00" cy="39.60" r="4.30" fill="#7E2F8E"/><circle cx="157.50" cy="65.20" r="4.30" fill="#7E2F8E"/><circle cx="207.50" cy="104.40" r="4.30" fill="#7E2F8E"/><circle cx="258.10" cy="116.80" r="4.30" fill="#7E2F8E"/><circle cx="307.60" cy="153.50" r="4.30" fill="#7E2F8E"/><circle cx="357.60" cy="149.90" r="4.30" fill="#7E2F8E"/><circle cx="393.10" cy="258.00" r="4.30" fill="#7E2F8E"/><circle cx="422.90" cy="174.10" r="4.30" fill="#7E2F8E"/><circle cx="458.20" cy="160.40" r="4.30" fill="#7E2F8E"/><circle cx="478.50" cy="222.90" r="4.30" fill="#7E2F8E"/><circle cx="517.90" cy="236.90" r="4.30" fill="#7E2F8E"/></g>
<g style="font-family:'Liberation Sans',Arial,sans-serif" font-size="18" fill="#262626">
<text x="83.10" y="394.2" text-anchor="middle">0</text>
<text x="128.10" y="394.2" text-anchor="middle">1</text>
<text x="173.10" y="394.2" text-anchor="middle">2</text>
<text x="218.10" y="394.2" text-anchor="middle">3</text>
<text x="263.10" y="394.2" text-anchor="middle">4</text>
<text x="308.10" y="394.2" text-anchor="middle">5</text>
<text x="353.10" y="394.2" text-anchor="middle">6</text>
<text x="398.10" y="394.2" text-anchor="middle">7</text>
<text x="443.10" y="394.2" text-anchor="middle">8</text>
<text x="488.10" y="394.2" text-anchor="middle">9</text>
<text x="533.10" y="394.2" text-anchor="middle">10</text>
<text x="78.6" y="22.00" text-anchor="end">0</text>
<text x="78.6" y="57.68" text-anchor="end">-1.2</text>
<text x="78.6" y="93.36" text-anchor="end">-2.4</text>
<text x="78.6" y="129.04" text-anchor="end">-3.6</text>
<text x="78.6" y="164.72" text-anchor="end">-4.8</text>
<text x="78.6" y="200.40" text-anchor="end">-6</text>
<text x="78.6" y="236.08" text-anchor="end">-7.2</text>
<text x="78.6" y="271.76" text-anchor="end">-8.4</text>
<text x="78.6" y="307.44" text-anchor="end">-9.6</text>
<text x="78.6" y="343.12" text-anchor="end">-10.8</text>
<text x="78.6" y="378.80" text-anchor="end">-12</text>
</g>
<g style="font-family:'Liberation Serif','Times New Roman',serif" font-size="18.6" fill="#262626">
<text x="308.3" y="414.9" text-anchor="middle">Frequency, GHz</text>
<text transform="translate(22.00,223.00) rotate(-90)" font-size="18">|</text>
<text transform="translate(22.00,220.00) rotate(-90)" font-size="18">s</text>
<text transform="translate(29.80,212.50) rotate(-90)" font-size="15">1</text>
<text transform="translate(29.80,205.10) rotate(-90)" font-size="15">1</text>
<text transform="translate(22.00,197.00) rotate(-90)" font-size="18">|</text>
<text transform="translate(22.00,192.00) rotate(-90)" font-size="18">,</text>
<text transform="translate(22.00,183.50) rotate(-90)" font-size="18">dB</text>
</g>
<g style="font-family:'Liberation Serif','Times New Roman',serif" font-size="18.5" fill="#000">
<path d="M364.1 40.20H433.6" stroke="#0072BD" stroke-width="2"/>
<rect x="395.40" y="36.60" width="7.20" height="7.20" fill="#0072BD"/>
<text x="439" y="46.70">U = 8</text>
<path d="M364.1 63.70H433.6" stroke="#D95319" stroke-width="2"/>
<polygon points="399.00,57.87 393.50,67.27 404.50,67.27" fill="#D95319"/>
<text x="439" y="70.20">U = 9</text>
<path d="M364.1 87.20H433.6" stroke="#EDB120" stroke-width="2"/>
<polygon points="399.00,81.20 400.48,85.16 404.71,85.35 401.40,87.98 402.53,92.05 399.00,89.72 395.47,92.05 396.60,87.98 393.29,85.35 397.52,85.16" fill="#EDB120"/>
<text x="439" y="93.70">U = 10</text>
<path d="M364.1 110.90H433.6" stroke="#7E2F8E" stroke-width="2"/>
<circle cx="399.00" cy="110.90" r="4.30" fill="#7E2F8E"/>
<text x="439" y="117.40">U = 11</text>
</g>
</svg>
</body></html>
